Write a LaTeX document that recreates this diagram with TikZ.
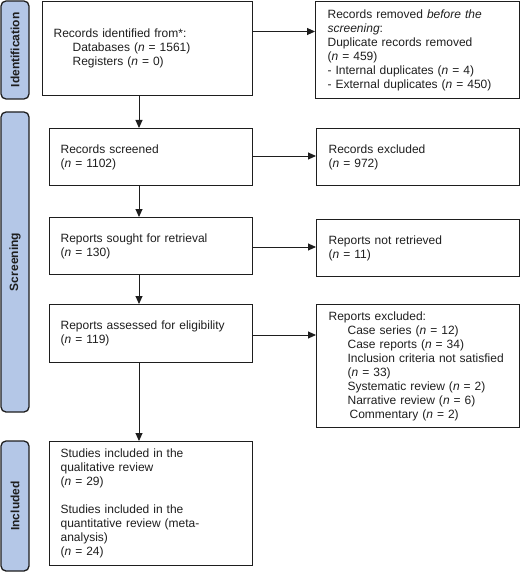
\documentclass[tikz,border=0pt]{standalone}
\usepackage{fontspec}
\setmainfont{Liberation Sans}
\usetikzlibrary{arrows.meta}
\definecolor{tabblue}{RGB}{180,199,231}
\definecolor{inkc}{RGB}{30,30,30}
\begin{document}
\begin{tikzpicture}[x=1pt,y=-1pt,
 box/.style={draw=inkc, line width=1.3pt, align=left, anchor=north west, inner xsep=11pt, inner ysep=0pt, text=inkc, font=\fontsize{12}{14}\selectfont},
 tab/.style={draw=inkc, line width=1.3pt, fill=tabblue, rounded corners=5pt, rotate=90, inner sep=0pt, minimum height=28pt, text=inkc, font=\fontsize{12}{14}\selectfont\bfseries},
 arr/.style={draw=inkc, line width=0.9pt, -{Triangle[length=8pt,width=7pt]}}]
\useasboundingbox (0,0) rectangle (520,572);
% phase tabs
\node[tab, minimum width=98pt] (t1) at (15,50) {Identification};
\node[tab, minimum width=300pt] (t2) at (15,262) {Screening};
\node[tab, minimum width=130pt] (t3) at (15,506) {Included};
% left column
\node[box, text width=188pt, minimum height=94pt] (b1) at (42,1) {Records identified from*:\\\hspace*{19pt}Databases (\textit{n} = 1561)\\\hspace*{19pt}Registers (\textit{n} = 0)};
\node[box, text width=181pt, minimum height=57pt] (b2) at (49,128) {Records screened\\(\textit{n} = 1102)};
\node[box, text width=181pt, minimum height=57pt] (b3) at (49,217) {Reports sought for retrieval\\(\textit{n} = 130)};
\node[box, text width=181pt, minimum height=58pt] (b4) at (49,304) {Reports assessed for eligibility\\(\textit{n} = 119)};
\node[box, text width=181pt, minimum height=124pt] (b5) at (49,441) {Studies included in the\\qualitative review\\(\textit{n} = 29)\\[14pt]Studies included in the\\quantitative review (meta-\\analysis)\\(\textit{n} = 24)};
% right column
\node[box, inner xsep=12pt, text width=180pt, minimum height=97pt] (r1) at (315,1) {Records removed \textit{before the}\\\textit{screening}:\\Duplicate records removed\\(\textit{n} = 459)\\- Internal duplicates (\textit{n} = 4)\\- External duplicates (\textit{n} = 450)};
\node[box, inner xsep=12pt, text width=179pt, minimum height=57pt] (r2) at (316,128) {Records excluded\\(\textit{n} = 972)};
\node[box, inner xsep=12pt, text width=179pt, minimum height=57pt] (r3) at (316,219) {Reports not retrieved\\(\textit{n} = 11)};
\node[box, inner xsep=12pt, text width=179pt, minimum height=123pt] (r4) at (316,304) {Reports excluded:\\\hspace*{19pt}Case series (\textit{n} = 12)\\\hspace*{19pt}Case reports (\textit{n} = 34)\\\hspace*{19pt}Inclusion criteria not satisfied\\\hspace*{19pt}(\textit{n} = 33)\\\hspace*{19pt}Systematic review (\textit{n} = 2)\\\hspace*{19pt}Narrative review (\textit{n} = 6)\\\hspace*{21pt}Commentary (\textit{n} = 2)};
% connectors
\coordinate (vx) at (139,0);
\draw[arr] (b1.south -| vx) -- (b2.north -| vx);
\draw[arr] (b2.south -| vx) -- (b3.north -| vx);
\draw[arr] (b3.south -| vx) -- (b4.north -| vx);
\draw[arr] (b4.south -| vx) -- (b5.north -| vx);
\coordinate (h1) at (0,31.5);
\coordinate (h2) at (0,156);
\coordinate (h3) at (0,247);
\coordinate (h4) at (0,335);
\draw[arr] (b1.east |- h1) -- (r1.west |- h1);
\draw[arr] (b2.east |- h2) -- (r2.west |- h2);
\draw[arr] (b3.east |- h3) -- (r3.west |- h3);
\draw[arr] (b4.east |- h4) -- (r4.west |- h4);
\end{tikzpicture}
\end{document}
